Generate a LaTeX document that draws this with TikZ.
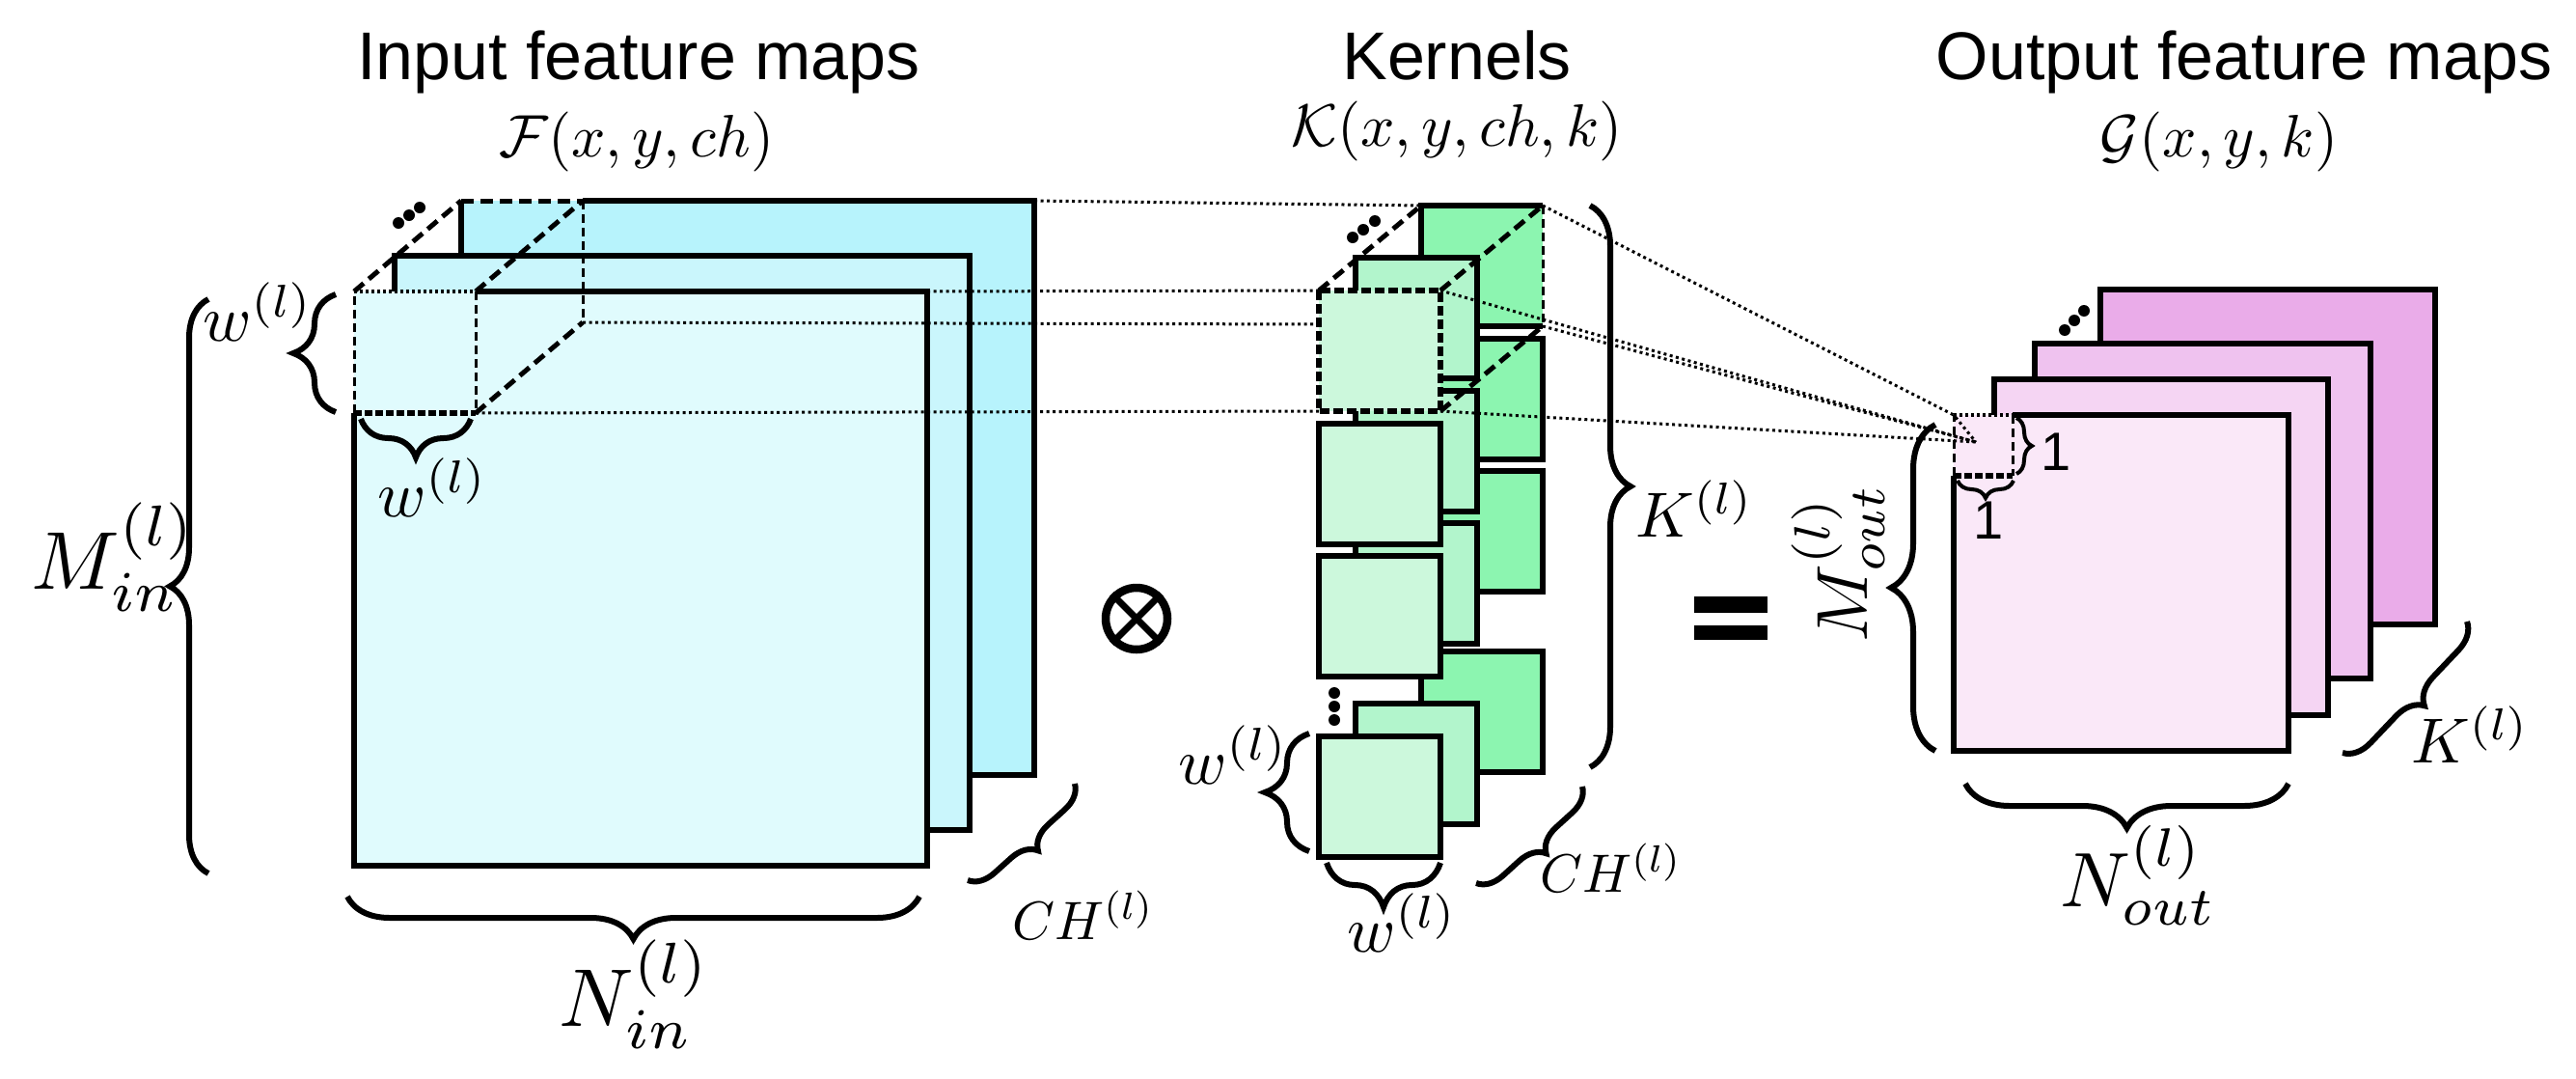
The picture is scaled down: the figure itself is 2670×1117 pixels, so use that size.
\documentclass[tikz,border=0pt]{standalone}
\usepackage{fontspec}
\newfontfamily\arialf{Liberation Sans}
\usetikzlibrary{decorations.pathreplacing}
\definecolor{inA}{RGB}{224,251,253}
\definecolor{inB}{RGB}{202,246,252}
\definecolor{inC}{RGB}{183,243,252}
\definecolor{kA}{RGB}{204,248,220}
\definecolor{kB}{RGB}{178,245,204}
\definecolor{kC}{RGB}{140,245,176}
\definecolor{oA}{RGB}{250,232,248}
\definecolor{oB}{RGB}{245,213,243}
\definecolor{oC}{RGB}{239,194,239}
\definecolor{oD}{RGB}{234,172,233}
\begin{document}
\begin{tikzpicture}[x=1pt,y=-1pt,
  sheet/.style={line width=5.5pt},
  proj/.style={line width=3pt, dash pattern=on 3pt off 3.5pt},
  cubeline/.style={line width=5pt, dash pattern=on 13pt off 7pt},
  thindash/.style={line width=3pt, dash pattern=on 9pt off 5pt},
  dotedge/.style={line width=3.5pt, dash pattern=on 3pt off 3pt},
  br/.style={decorate, decoration={brace, amplitude=#1}, line width=6pt},
  smallbr/.style={decorate, decoration={brace, amplitude=#1}, line width=4pt},
  lbl/.style={inner sep=0pt, anchor=base west, scale=#1},
  blob/.style={circle, fill=black, inner sep=0pt, minimum size=12pt},
  ttl/.style={inner sep=0pt, anchor=base, font=\arialf\fontsize{70}{80}\selectfont},
  fn/.style={inner sep=0pt, anchor=base, scale=6.2},
  onelbl/.style={inner sep=0pt, anchor=base west, font=\arialf, scale=5.6}]
\useasboundingbox (0,0) rectangle (2670,1117);

% ---------- titles ----------
\node[ttl] (tIn) at (662,82) {Input feature maps};
\node[fn] (fIn) at (660,162) {$\mathcal{F}(x,y,ch)$};
\node[ttl] (tK) at (1510,82) {Kernels};
\node[fn] (fK) at (1510,151) {$\mathcal{K}(x,y,ch,k)$};
\node[ttl] (tOut) at (2326,82) {Output feature maps};
\node[fn] (fOut) at (2300,162) {$\mathcal{G}(x,y,k)$};

% ---------- input feature maps ----------
\fill[inC] (478,208) rectangle (1072,803);
\draw[sheet] (604,208) -- (1072,208) -- (1072,803) -- (478,803) -- (478,208);
\filldraw[sheet, fill=inB] (409,265) rectangle (1005,860);
\fill[inA] (367,302) rectangle (961,897);
\draw[sheet] (493,302) -- (961,302) -- (961,897) -- (367,897) -- (367,428);
% cube on input
\coordinate (iFtl) at (367,302);
\coordinate (iFtr) at (493,302);
\coordinate (iFbr) at (493,428);
\coordinate (iFbl) at (367,428);
\coordinate (iBtl) at (478,208);
\coordinate (iBtr) at (604,208);
\coordinate (iBbr) at (604,334);
\coordinate (iSheetTR) at (1072,208);
\coordinate (iFrontTR) at (961,302);
\draw[thindash] (iFbl) -- (iFtl);
\draw[dotedge] (iFtl) -- (iFtr);
\draw[line width=5.5pt, dash pattern=on 8pt off 3pt] (iFbl) -- (iFbr);
\draw[thindash] (iFtr) -- (iFbr);
\draw[cubeline] (iFtl) -- (iBtl);
\draw[cubeline] (iFtr) -- (iBtr);
\draw[cubeline] (iFbr) -- (iBbr);
\draw[thindash] (iBtr) -- (iBbr);
\draw[cubeline] (iBtl) -- (iBtr);
\node[blob] (id1) at (413,231) {};
\node[blob] (id2) at (424,223) {};
\node[blob] (id3) at (435,215) {};

% input braces and labels
\draw[br=40pt] (216,905) -- (216,310);
\node[lbl=8.5] (Min) at (31,610) {$M_{in}^{(l)}$};
\draw[br=44pt] (953,929) -- (360,929);
\node[lbl=8.5] (Nin) at (578,1063) {$N_{in}^{(l)}$};
\draw[br=44pt] (348,427) -- (348,305);
\node[lbl=6.8] (wInL) at (209,353) {$w^{(l)}$};
\draw[br=40pt] (488,434) -- (374,434);
\node[lbl=6.8] (wInB) at (390,535) {$w^{(l)}$};
\draw[br=26pt] (1114,812) -- (1003,912);
\node[lbl=5.6] (CHin) at (1048,973) {$CH^{(l)}$};

% ---------- operator symbols ----------
\node[circle, draw, line width=8.5pt, minimum size=64pt, inner sep=0pt] (otimes) at (1178,641) {};
\draw[line width=7pt] (otimes.45) -- (otimes.225);
\draw[line width=7pt] (otimes.135) -- (otimes.-45);
\fill (1756,618) rectangle (1832,635);
\fill (1756,648) rectangle (1832,663);

% ---------- kernels ----------
\fill[kC] (1473,213) rectangle (1599,338);
\draw[sheet] (1599,338) -- (1473,338) -- (1473,213) -- (1599,213);
\foreach \t in {351,488,675} \filldraw[sheet, fill=kC] (1473,\t) rectangle ++(126,125);
\foreach \t in {267,405,542,729} \filldraw[sheet, fill=kB] (1405,\t) rectangle ++(126,125);
\filldraw[line width=5.5pt, dash pattern=on 10pt off 4pt, fill=kA] (1367,301) rectangle (1493,426);
\foreach \t in {439,576,763} \filldraw[sheet, fill=kA] (1367,\t) rectangle ++(126,125);
\coordinate (kFtl) at (1367,301);
\coordinate (kFtr) at (1493,301);
\coordinate (kFbr) at (1493,426);
\coordinate (kFl3) at (1367,336);
\coordinate (kFbl) at (1367,426);
\coordinate (kBtl) at (1473,213);
\coordinate (kBtr) at (1599,213);
\coordinate (kBbr) at (1599,338);
\draw[thindash] (kBtr) -- (kBbr);
\draw[cubeline] (kFtl) -- (kBtl);
\draw[cubeline] (kFtr) -- (kBtr);
\draw[cubeline] (kFbr) -- (kBbr);
\node[blob] (kd1) at (1402,246) {};
\node[blob] (kd2) at (1413,238) {};
\node[blob] (kd3) at (1425,229) {};
\node[blob] (kv1) at (1383,718) {};
\node[blob] (kv2) at (1383,732) {};
\node[blob] (kv3) at (1383,746) {};
\draw[br=42pt] (1648,213) -- (1648,795);
\node[lbl=6.6] (Kk) at (1694,556) {$K^{(l)}$};
\draw[br=46pt] (1357,882) -- (1357,760);
\node[lbl=6.8] (wKL) at (1220,812) {$w^{(l)}$};
\draw[br=46pt] (1493,894) -- (1375,894);
\node[lbl=6.8] (wKB) at (1395,986) {$w^{(l)}$};
\draw[br=26pt] (1640,815) -- (1530,915);
\node[lbl=5.6] (CHk) at (1595,924) {$CH^{(l)}$};

% ---------- output feature maps ----------
\filldraw[sheet, fill=oD] (2177,300) rectangle (2524,647);
\filldraw[sheet, fill=oC] (2109,356) rectangle (2457,703);
\filldraw[sheet, fill=oB] (2067,393) rectangle (2413,741);
\fill[oA] (2025,430) rectangle (2372,778);
\draw[sheet] (2086,430) -- (2372,430) -- (2372,778) -- (2025,778) -- (2025,493);
\coordinate (oTL) at (2025,430);
\coordinate (oTR) at (2086,430);
\coordinate (oBR) at (2086,493);
\coordinate (oBL) at (2025,493);
\coordinate (oP) at (2048,458);
\draw[thindash] (oBL) -- (oTL);
\draw[dotedge] (oTL) -- (oTR);
\draw[thindash] (oTR) -- (oBR);
\draw[line width=5.5pt, dash pattern=on 8pt off 3pt] (oBL) -- (oBR);
\node[blob] (od1) at (2140,342) {};
\node[blob] (od2) at (2150,332) {};
\node[blob] (od3) at (2160,322) {};
\draw[smallbr=16pt] (2090,433) -- (2090,491);
\node[onelbl] (one1) at (2114,487) {1};
\draw[smallbr=18pt] (2087,498) -- (2029,498);
\node[onelbl] (one2) at (2044,558) {1};
\draw[br=46pt] (2006,778) -- (2006,440);
\node[lbl=7.5, rotate=90] (Mout) at (1935,667) {$M_{out}^{(l)}$};
\draw[br=46pt] (2372,812) -- (2037,812);
\node[lbl=8] (Nout) at (2134,939) {$N_{out}^{(l)}$};
\draw[br=28pt] (2557,644) -- (2428,780);
\node[lbl=6.6] (Kout) at (2498,790) {$K^{(l)}$};

% ---------- projection lines ----------
\draw[proj] (iSheetTR) -- (kBtl);
\draw[proj] (iFrontTR) -- (kFtl);
\draw[proj] (iBbr) -- (kFl3);
\draw[proj] (iFbr) -- (kFbl);
\draw[proj] (kBtr) -- (oTL) -- (oP);
\draw[proj] (kFtr) -- (oP);
\draw[proj] (kBbr) -- (oP);
\draw[proj] (kFbr) -- (oP);
\end{tikzpicture}
\end{document}
